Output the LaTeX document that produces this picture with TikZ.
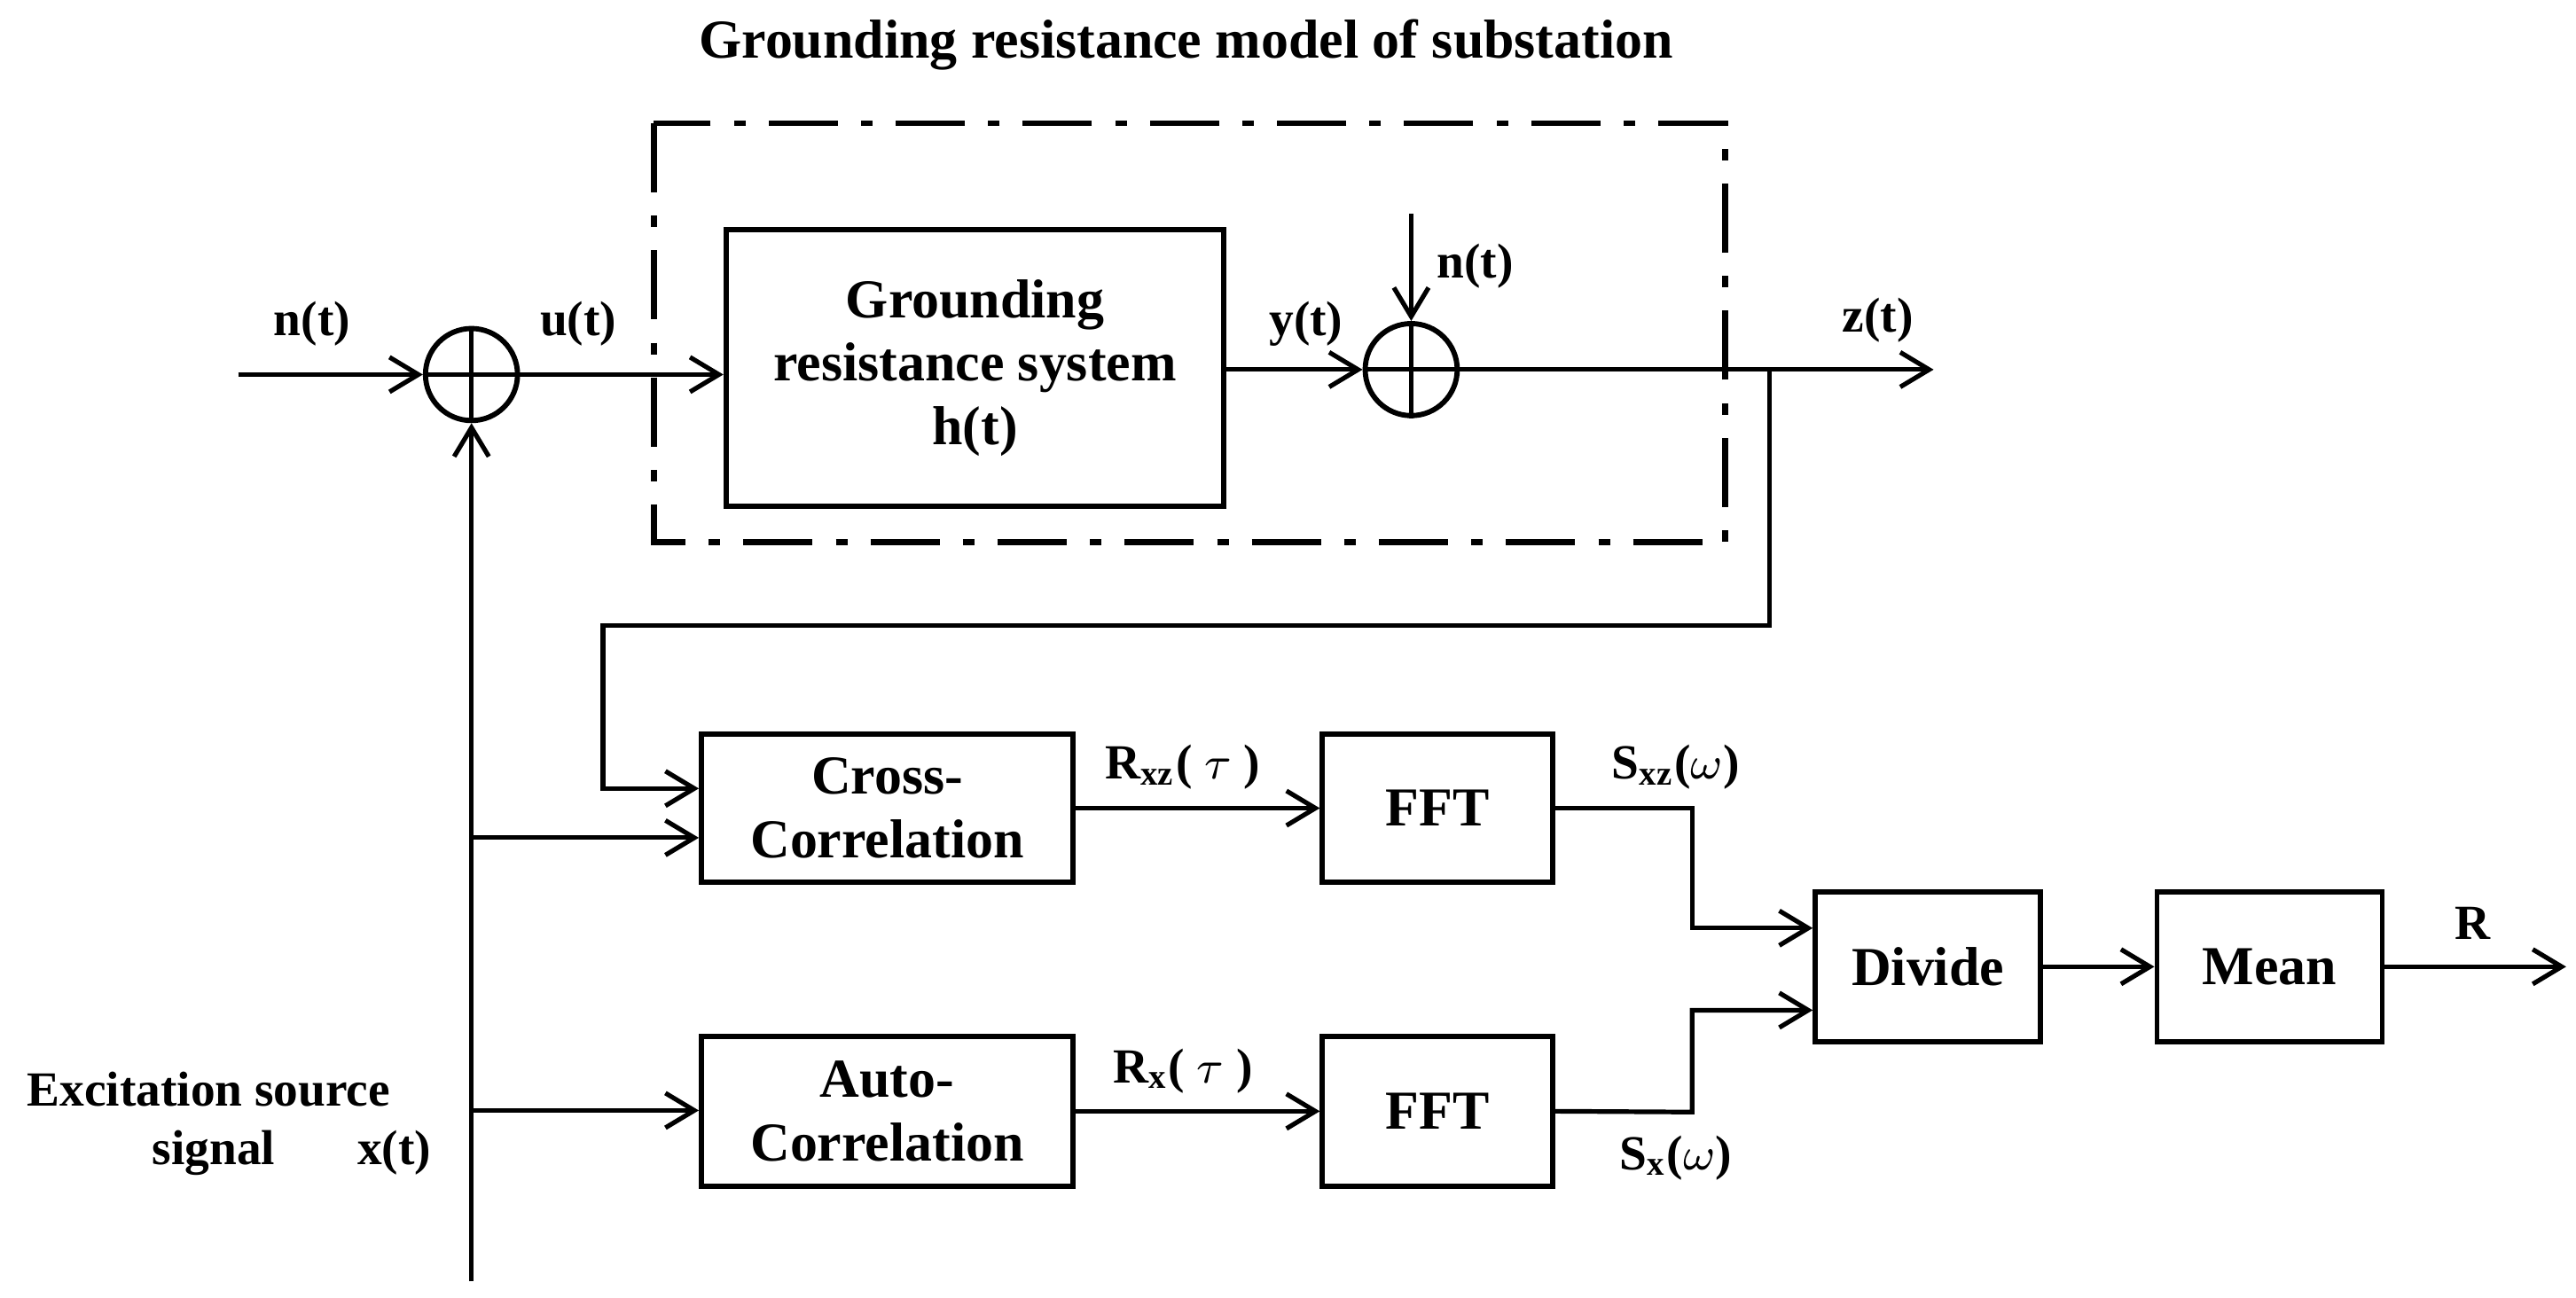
\documentclass[tikz,border=0pt]{standalone}
\usepackage{fontspec}
\setmainfont{Liberation Serif}
\usetikzlibrary{arrows.meta}
\begin{document}
\begin{tikzpicture}[x=0.01cm,y=-0.01cm,
  blk/.style={draw,line width=0.9pt,align=center,font=\bfseries\fontsize{9.5}{11}\selectfont},
  lbl/.style={font=\bfseries\fontsize{8.5}{10}\selectfont},
  sum/.style={draw,circle,line width=0.9pt,minimum size=0.56cm,inner sep=0pt},
  arr/.style={-{Straight Barb[length=5pt,width=6pt]},line width=0.8pt},
  ln/.style={line width=0.8pt}]
\useasboundingbox (0,0) rectangle (1568,790);
\node[lbl,font=\bfseries\fontsize{9.5}{11}\selectfont] (title) at (722,27) {Grounding resistance model of substation};
\draw[line width=1pt,dash pattern=on 12pt off 4pt on 2pt off 4pt] (398,75) rectangle (1050,330);
\node[blk,minimum width=3.03cm,minimum height=1.68cm] (sys) at (593.5,224) {Grounding\\resistance system\\h(t)};
\node[sum] (s1) at (287,228) {};
\draw[ln] (s1.north)--(s1.south) (s1.west)--(s1.east);
\node[sum] (s2) at (859,225) {};
\draw[ln] (s2.north)--(s2.south) (s2.west)--(s2.east);
\coordinate (nin) at (145,228);
\draw[arr] (nin)--(s1);
\node[lbl] (nt) at (190,197) {n(t)};
\draw[arr] (s1)--(sys.west|-s1);
\node[lbl] (ut) at (352,197) {u(t)};
\draw[arr] (sys.east|-s2)--(s2);
\node[lbl] (yt) at (795,197) {y(t)};
\coordinate (ntop) at (859,130);
\draw[arr] (ntop)--(s2);
\node[lbl] (nt2) at (898,162) {n(t)};
\coordinate (zend) at (1177,225);
\draw[arr] (s2)--(zend);
\node[lbl] (zt) at (1143,195) {z(t)};
\node[blk,minimum width=2.26cm,minimum height=0.9cm] (cc) at (540,492) {Cross-\\Correlation};
\node[blk,minimum width=2.26cm,minimum height=0.91cm] (ac) at (540,676.5) {Auto-\\Correlation};
\node[blk,minimum width=1.4cm,minimum height=0.9cm] (f1) at (875,492) {FFT};
\node[blk,minimum width=1.4cm,minimum height=0.91cm] (f2) at (875,676.5) {FFT};
\node[blk,minimum width=1.37cm,minimum height=0.91cm] (dv) at (1173.5,588.5) {Divide};
\node[blk,minimum width=1.37cm,minimum height=0.91cm] (mn) at (1381.5,588.5) {Mean};
\coordinate (br) at (1077,225);
\draw[arr] (br)--(1077,381)--(367,381)--(367,480)--(cc.west|-0,480);
\coordinate (xb) at (287,780);
\draw[arr] (xb)--(s1);
\draw[arr] (287,510)--(cc.west|-0,510);
\draw[arr] (287,676)--(ac.west|-0,676);
\draw[arr] (cc)--(f1);
\draw[arr] (ac)--(f2);
\node[lbl] (rxz) at (720,467) {R$_{\mathbf{xz}}$( $\tau$ )};
\node[lbl] (rx) at (720,652) {R$_{\mathbf{x}}$( $\tau$ )};
\draw[arr] (f1.east)--(1030,492)--(1030,565)--(dv.west|-0,565);
\draw[arr] (f2.east)--(1030,677)--(1030,615)--(dv.west|-0,615);
\node[lbl] (sxz) at (1020,467) {S$_{\mathbf{xz}}$($\omega$)};
\node[lbl] (sx) at (1020,705) {S$_{\mathbf{x}}$($\omega$)};
\draw[arr] (dv)--(mn);
\coordinate (rend) at (1562,588.5);
\draw[arr] (mn)--(rend);
\node[lbl] (R) at (1505,562) {R};
\node[lbl] (ex) at (127,663) {Excitation source};
\node[lbl] (sg) at (130,702) {signal};
\node[lbl] (xt) at (240,702) {x(t)};
\end{tikzpicture}
\end{document}
